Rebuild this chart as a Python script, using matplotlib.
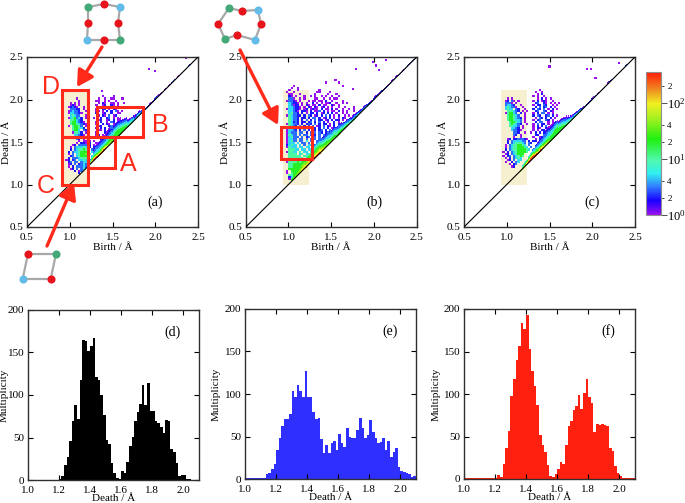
"""Persistence diagrams (a-c) and death-time histograms (d-f)."""

import matplotlib
matplotlib.use("Agg")
import matplotlib.pyplot as plt
import numpy as np
from matplotlib.colors import LinearSegmentedColormap, LogNorm
from matplotlib.patches import Rectangle

plt.rcParams["font.family"] = ["Liberation Serif", "DejaVu Serif"]
plt.rcParams["mathtext.fontset"] = "custom"
plt.rcParams["mathtext.rm"] = "Liberation Serif"

W, H = 685, 503
RED = "#ff2a1a"

# histogram values, bins of 1/60 starting at 1.0
HIST_D = [0] * 12 + [2, 5, 18, 27, 46, 69, 88, 72, 117, 164, 163, 152, 157, 167, 121, 117, 100, 77,
                     47, 43, 20, 8, 3, 2, 11, 9, 22, 40, 51, 70, 80, 90, 112, 88, 114, 81, 81, 70,
                     67, 63, 55, 71, 70, 37, 33, 20, 5, 6, 6, 2, 1, 0, 0, 0]
HIST_E = [1, 1, 1, 1, 1, 1, 1, 2, 6, 7, 12, 18, 34, 48, 62, 71, 71, 76, 103, 97, 111, 104, 97, 127,
          96, 96, 79, 71, 72, 47, 31, 40, 31, 42, 45, 34, 53, 43, 38, 60, 50, 48, 49, 58, 72, 60,
          48, 52, 69, 55, 48, 43, 44, 48, 34, 45, 26, 32, 37, 15, 10, 9, 7, 6, 3, 4]
HIST_F = [1] * 13 + [5, 2, 18, 36, 57, 98, 118, 140, 156, 184, 176, 193, 153, 127, 110, 87, 52, 40,
                     32, 16, 3, 2, 6, 12, 20, 18, 40, 62, 68, 81, 86, 99, 82, 101, 118, 97, 89, 55,
                     65, 63, 65, 64, 62, 37, 33, 15, 7, 4, 1, 1, 1, 1, 1]

# counts for each density digit used in the maps below
LEVELS = [0, 1, 2, 3, 5, 10, 20, 40, 100, 250]

# clouds: one row per death value going down from CLOUD_TOP, one char per 0.025 birth from 0.90
CLOUD_TOP = 2.15
CLOUD_A = [
    "", "", "", "", "",
    "                   1    1",
    "                 1  1  11   1",
    "        1       11  1 1  1",
    "    1 1 1        1 21  11 1  1",
    "    121 1       1  12  21 1",
    "   12321  1      11 2 1 12  1",
    "    33322 1     1  22 1 21",
    "   134332  1    11 1 2 2 31 1",
    "   1443321      2  12  2  11",
    "    45433  1     1 21 3 12",
    "   1456342 1   1  2  23 1 1",
    "    556432  1    12  12 2 1",
    "    5664321     1 2  1 32 1",
    "    56654321    1  2 21  21",
    "   1 56653 1     12   231 1",
    "     566542 1   1 2 2  31",
    "     5664 32     11 2 12  1",
    "     15542 1    1   2 21 1",
    "      44321     12 1  2  1",
    "     1 3321 1     2 1  1 2",
    "       32 1       21  1 1",
    "        1 11 1 1  1  11  1",
    "       1 22122  1 1 2  1 1 1",
    "     12 333322 1 2 12 2 1 1",
    "    1 34445432 22 31 12 1",
    "    2 3455654 32  32 1 2 1",
    "   2 34456665 4 32 3 21 1",
    "   1 3 4566765 3 2 2 1 1",
    "    23 456665 43 21 3",
    "   2 33345554 3 3 2",
    "  12 23 44543 4 3",
    "   23 33 3443 4",
    "   12 3 2343 3",
    "   1 2 33343",
    "    12 3 34",
    "      2 133",
    "        23",
]
CLOUD_B = [
    "      1",
    "     1  1",
    "    1   1         1",
    "   1  1          11    1",
    "    11   1      1     1   1",
    "    21 1   1  1 1  1 1  1  1",
    "    331  1 1    11  1  1 11",
    "   13321 1   1 11 11 2  1    1",
    "    43221 1 1  2 1 1 112  1  1 1",
    "    43122 1 21 11 2 11  21 1",
    "    443221 1 21 21 12 1 1  1  1   1",
    "   1443221 12 1211 2 11 2 1  1  1 1",
    "    44321 221 2 113 2 1 11 2 1 1  1",
    "    45332 2 1 22 2 12 2 2 1  1 1",
    "   1543322 2 32 12 2 3 2 1 2  1 1 1 1",
    "    54332 22 2 33 2 12 2 1 1 21  1",
    "    54332 2 3 2 3 22 12 2 22 1 1 1  1",
    "    54232 22 23 2 3 2 1  2 1   1 2 1",
    "   154332 2 232 3 2 22 1 2 2 1 1 11",
    "    5432 3 2 2 3 12 3 21 2 3 2 1",
    "    4432 22 3 3 2 2 3 2 12 2 1 22",
    "   14432 2 3 2 32 23 2 3 22 2 2 2",
    "   14333 33 2 3 3 32 23 2 3 2 33",
    "   15433 3 33 3 2 3 3 2 3 33",
    "   145333 3 23 33 3 2 3 33 3",
    "   14433 33 3 3 3 33 3 3 3",
    "   14533 33 4 33 3 33 33 4",
    "   1444 4 33 3 4 33 3 4 3",
    "   24544 4 3 44 3 43 43",
    "   15444 44 44 4 43 4",
    "    55544 44 44 4 44",
    "   15544 5 44 44 5 44",
    "    5555 45 44 455",
    "    555555 55 5555",
    "    5555555 5555 5",
    "   16555555555",
    "   155556555565",
    "    5566665",
    "    556666",
    "    66666",
    "   1 6666",
    "   1 5666",
    "    5566",
    "    245",
    "    13",
]
CLOUD_C = [
    "", "",
    "                   1",
    "                 1  1",
    "                  1 2",
    "                1 1  1",
    "    1 1           1 2 1 1",
    "   12 31 1      1 2 121  1",
    "   3331 1        23  21 1 1 1",
    "   34432  1     1 22 32  1 1",
    "   454331  1     2 3 23 2 1",
    "   4544 32  1   2 32 3 1 2 1",
    "    555432 1 1   23  32 21",
    "   156643 2 1   1 2 33 1 1",
    "    566543  1   2 32  23 2 1",
    "    5665432 1    1 32 2 2 1",
    "    5665443 1   1 23  32 1",
    "     566543 1    2 33  1 1",
    "     565432  1  1 3 22 1",
    "     55443 1    1 2 2 3 1 1",
    "      4432 1    1 21  2 1",
    "      43321     1 1 22 1",
    "       332  1  1 2 2 2",
    "       32 1      22  3",
    "       1  1     1  12",
    "    12 2233321   1 2",
    "    2 3444433 2 22",
    "    2 3455543 32",
    "   1 34556654 3",
    "   1 345566654 3",
    "   2 3455666654",
    "  1 2 34566665",
    "   12 345666",
    "  1 23 34565",
    "   1 2 3454",
    "    12 3 44",
    "   1  2 34",
    "     1 23",
    "      12",
]

# bands: one string per 0.025 birth from the start value, chars go up from the diagonal per 0.0125
BAND_A_START = 1.2
BAND_A = [
    "65", "87543", "9876543", "99876544332", "9987654433321", "99876544333221", "998765443332211",
    "9987654433322", "988765443332211", "8876654443332211", "87766654443322211", "877666654433221",
    "776666655443322111", "7766666554433221", "766666655443322", "76666655443322111", "7666655443322",
    "666655443321", "66655443321", "65544321", "6554431", "654432", "54321", "5432",
    "54321", "432", "431", "42", "32", "321", "31", "32", "32", "31", "21", "3", "21",
    "3", "31", "2", "3", "2", "21", "3", "2", "3", "3", "3", "2", "3", "3", "3",
]
BAND_B_START = 1.025
BAND_B = [
    "6665", "77666", "777666", "8777666", "88777666", "888777666", "8887776665", "9887776665",
    "98887766655", "99887766655", "998877665554", "998877665544", "9988776655443", "99887766554433",
    "88877665544332", "8877665544332", "87766655443322", "8776655444332", "876655444332",
    "77665544332", "776655443322", "7665544332", "76655433221", "7665443321", "66544332",
    "6654432", "6654332", "654332", "654321", "65432", "64321", "5432", "5321",
    "532", "4321", "432", "432", "431", "42", "321", "32", "31", "32", "31", "32", "31",
    "3", "21", "3", "31", "2", "3", "21", "3", "3", "2", "3", "3", "3", "2", "3",
]
BAND_C_START = 1.15
BAND_C = [
    "76", "8654", "87654", "98765", "9987654", "99987654", "999876543", "99987654332", "998765443321",
    "9987654433321", "988765443332", "88766544433322", "887665544333221", "8776655444332211",
    "7766665444332211", "76666654443322111", "766666654443322", "76666665544331", "666665544321",
    "666655443321", "66655443321", "6655443321", "65544321", "655432", "65431", "6432", "5421",
    "532", "532", "431", "43", "42", "32", "32", "31", "3", "21", "3", "3", "2", "3", "31",
    "2", "3", "3", "2", "3", "3", "3", "2", "3", "3", "3", "3",
]

# isolated single counts
STRAY_A_BIRTH = [1.91, 1.99, 2.35, 1.36, 1.61, 1.08]
STRAY_A_DEATH = [2.35, 2.33, 2.50, 2.09, 2.00, 2.00]
STRAY_B_BIRTH = [1.97, 2.12, 1.77, 2.01, 2.05, 1.54, 1.58, 1.74, 1.62, 1.43]
STRAY_B_DEATH = [2.43, 2.45, 2.35, 2.39, 2.34, 2.21, 2.19, 2.11, 2.15, 2.19]
STRAY_C_BIRTH = [1.49, 1.92, 1.975, 2.02, 2.30]
STRAY_C_DEATH = [2.38, 2.35, 2.35, 2.24, 2.41]

TICKS_MAP = [0.5, 1.0, 1.5, 2.0, 2.5]
TICKS_HIST_X = [1.0, 1.2, 1.4, 1.6, 1.8, 2.0]
TICKS_HIST_Y = [0, 50, 100, 150, 200]
COLORBAR_MAJOR = [1, 10, 100]
COLORBAR_MINOR = [2, 4, 20, 40, 200]

STEP = 0.0125
CMAP = LinearSegmentedColormap.from_list("rainbow_pd", [
    (0.00, "#9a10f0"), (0.10, "#1800ff"), (0.20, "#3080ff"), (0.29, "#30f0f0"), (0.38, "#50f8b0"),
    (0.53, "#20f010"), (0.68, "#a8f020"), (0.78, "#f0f020"), (0.89, "#f08020"), (1.00, "#ff1a08"),
])
NORM = LogNorm(vmin=1, vmax=360)


def axes_px(fig, left, right, top, bottom):
    return fig.add_axes([left / W, 1 - bottom / H, (right - left) / W, (bottom - top) / H])


def build_grid(cloud, band, band_start, stray_birth, stray_death):
    n = int(round(2.0 / STEP))
    grid = np.zeros((n, n))
    for r, row in enumerate(cloud):
        death = CLOUD_TOP - 0.025 * r
        j = int(round((death - 0.5) / STEP))
        for c, ch in enumerate(row):
            if ch == " ":
                continue
            i = int(round((0.9 + 0.025 * c - 0.5) / STEP))
            if j > i + 1:
                grid[j:j + 2, i:i + 2] = LEVELS[int(ch)]
    for k, levels in enumerate(band):
        i0 = int(round((band_start + 0.025 * k - 0.5) / STEP))
        for col in (i0, i0 + 1):
            for off, ch in enumerate(levels):
                j = col + off
                if ch != " " and j < n and col < n:
                    grid[j, col] = max(grid[j, col], LEVELS[int(ch)])
    for b, d in zip(stray_birth, stray_death):
        i = min(int(round((b - 0.5) / STEP)), n - 2)
        j = min(int(round((d - 0.5) / STEP)), n - 2)
        grid[j:j + 2, i:i + 2] = 1
    return np.ma.masked_equal(grid, 0)


def style_axes(ax, xpad):
    ax.tick_params(direction="in", top=True, right=True, length=3.5, width=0.8, labelsize=8)
    ax.tick_params(axis="x", pad=xpad)
    ax.tick_params(axis="y", pad=2.5)
    for spine in ax.spines.values():
        spine.set_linewidth(1.0)
        spine.set_color("#303030")


def plot_map(fig, box, grid, beige, label):
    ax = axes_px(fig, *box)
    ax.add_patch(Rectangle((beige[0], 1.0), beige[1] - beige[0], 1.11, color="#f6efd0", lw=0, zorder=1))
    edges = np.linspace(0.5, 2.5, grid.shape[0] + 1)
    ax.pcolormesh(edges, edges, grid, cmap=CMAP, norm=NORM, zorder=2)
    ax.plot([0.5, 2.5], [0.5, 2.5], color="black", lw=0.8, zorder=3)
    ax.set_xlim(0.5, 2.5)
    ax.set_ylim(0.5, 2.5)
    ax.set_xticks(TICKS_MAP)
    ax.set_yticks(TICKS_MAP)
    ax.set_xticklabels([f"{t:.1f}" for t in TICKS_MAP])
    ax.set_yticklabels([f"{t:.1f}" for t in TICKS_MAP])
    ax.set_xlabel("Birth / Å", fontsize=8)
    ax.set_ylabel("Death / Å", fontsize=8)
    ax.xaxis.set_label_coords(0.5, -0.097)
    ax.yaxis.set_label_coords(-0.094, 0.5)
    ax.text(2.0, 0.79, label, fontsize=10, ha="center", va="center")
    style_axes(ax, 4.5)
    return ax


def red_box(ax, x0, x1, y0, y1):
    ax.add_patch(Rectangle((x0, y0), x1 - x0, y1 - y0, fill=False, ec=RED, lw=2.2, zorder=5, clip_on=False))


def plot_hist(fig, box, values, color, label, ylabel_x):
    ax = axes_px(fig, *box)
    edges = 1.0 + np.arange(len(values) + 1) / 60
    ax.stairs(values, edges, fill=True, color=color)
    ax.set_xlim(1.0, 2.1)
    ax.set_ylim(0, 200)
    ax.set_xticks(TICKS_HIST_X)
    ax.set_yticks(TICKS_HIST_Y)
    ax.set_xticklabels([f"{t:.1f}" for t in TICKS_HIST_X])
    ax.set_xlabel("Death / Å", fontsize=8)
    ax.set_ylabel("Multiplicity", fontsize=8)
    ax.xaxis.set_label_coords(0.5, -0.082)
    ax.yaxis.set_label_coords(ylabel_x, 0.5)
    ax.text(1.93, 174, label, fontsize=10, ha="center", va="center")
    style_axes(ax, 4.0)


def molecule(ax, atoms, bonds):
    for a, b in bonds:
        ax.plot([atoms[a][0], atoms[b][0]], [atoms[a][1], atoms[b][1]], color="#a8a8a8", lw=1.6, zorder=1)
    for x, y, c in atoms:
        ax.scatter([x], [y], s=34, color=c, lw=0, zorder=2)


def main():
    fig = plt.figure(figsize=(W / 100, H / 100), dpi=100)

    ax_a = plot_map(fig, (27, 198, 57, 227), build_grid(CLOUD_A, BAND_A, BAND_A_START, STRAY_A_BIRTH, STRAY_A_DEATH),
                    (0.92, 1.23), "(a)")
    ax_b = plot_map(fig, (245.7, 416.7, 57, 227), build_grid(CLOUD_B, BAND_B, BAND_B_START, STRAY_B_BIRTH, STRAY_B_DEATH),
                    (0.94, 1.24), "(b)")
    plot_map(fig, (464, 635, 57, 227), build_grid(CLOUD_C, BAND_C, BAND_C_START, STRAY_C_BIRTH, STRAY_C_DEATH),
             (0.93, 1.24), "(c)")

    red_box(ax_a, 0.91, 1.215, 1.56, 2.11)
    red_box(ax_a, 0.91, 1.215, 1.0, 1.56)
    red_box(ax_a, 1.215, 1.53, 1.2, 1.56)
    red_box(ax_a, 1.32, 1.86, 1.56, 1.91)
    red_box(ax_b, 0.913, 1.276, 1.3, 1.676)

    plot_hist(fig, (27.7, 199, 309.7, 480.3), HIST_D, "black", "(d)", -0.11)
    plot_hist(fig, (245, 416, 308.7, 479.3), HIST_E, "#2f2fff", "(e)", -0.14)
    plot_hist(fig, (463.7, 635, 309, 479), HIST_F, "#ff2010", "(f)", -0.135)

    cax = axes_px(fig, 646, 661, 72, 215)
    sm = plt.cm.ScalarMappable(norm=NORM, cmap=CMAP)
    cb = fig.colorbar(sm, cax=cax)
    cb.outline.set_edgecolor("#909090")
    cb.ax.minorticks_off()
    cb.set_ticks(COLORBAR_MAJOR + COLORBAR_MINOR)
    labels = {1: r"$\mathregular{10^{0}}$", 10: r"$\mathregular{10^{1}}$", 100: r"$\mathregular{10^{2}}$"}
    cb.set_ticklabels([labels.get(t, str(t)[0]) for t in COLORBAR_MAJOR + COLORBAR_MINOR])
    cb.ax.tick_params(pad=1, width=0.7, color="#505050")
    for tick, value in zip(cb.ax.yaxis.get_major_ticks(), COLORBAR_MAJOR + COLORBAR_MINOR):
        big = value in labels
        tick.label2.set_fontsize(9 if big else 6.5)
        tick.tick2line.set_markersize(4 if big else 2.5)

    over = fig.add_axes([0, 0, 1, 1], zorder=10, facecolor="none")
    over.axis("off")

    for text, x, y in (("D", 51, 87), ("B", 160, 125), ("A", 128, 164), ("C", 46, 186)):
        over.text(x, y, text, color=RED, fontsize=18, family="Liberation Sans", ha="center", va="center")

    for tail, head in (((102, 47), (77, 87)), ((47, 246), (74, 183)), ((240, 50), (278, 125))):
        over.annotate("", xy=head, xytext=tail, arrowprops=dict(
            arrowstyle="-|>,head_length=0.8,head_width=0.45", color=RED, lw=2.4, mutation_scale=12,
            shrinkA=0, shrinkB=0))

    green, red, blue = "#45a878", "#e8141c", "#62bce8"
    top_a = [(88, 7, green), (104, 4, red), (120, 7, blue), (118, 23, red), (120, 40, green), (104, 40, red),
             (87, 40, blue), (88, 23, red)]
    top_b = [(229, 8, green), (241.7, 11, red), (258, 10, blue), (261, 24, red), (255, 40, blue), (237, 35, red),
             (225, 39, green), (218, 24, red)]
    bottom = [(28, 254, red), (56, 254, green), (50.7, 278.7, red), (22.7, 278.7, blue)]
    molecule(over, top_a, [(i, (i + 1) % 8) for i in range(8)])
    molecule(over, top_b, [(i, (i + 1) % 8) for i in range(8)])
    molecule(over, bottom, [(i, (i + 1) % 4) for i in range(4)])
    over.set_xlim(0, W)
    over.set_ylim(H, 0)

    fig.savefig("out.png", dpi=100)
    plt.close(fig)


if __name__ == "__main__":
    main()
